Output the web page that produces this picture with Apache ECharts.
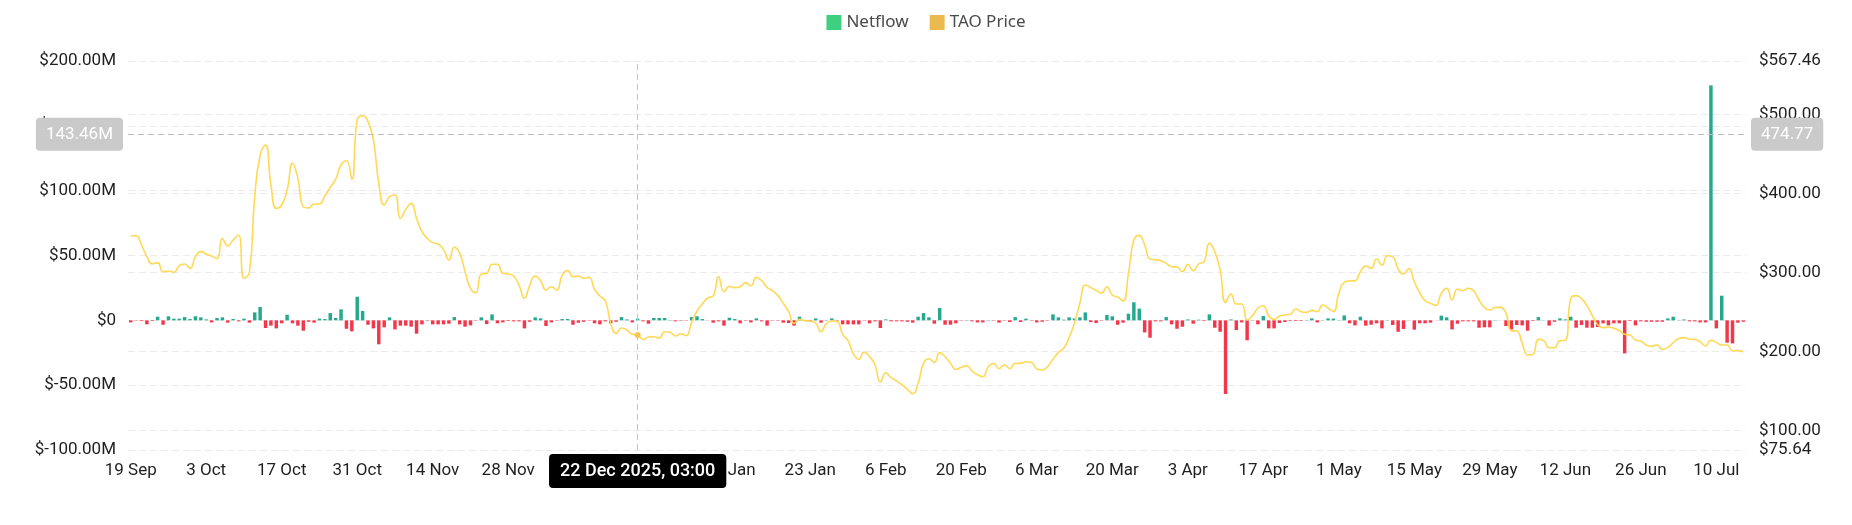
<!DOCTYPE html>
<html>
<head>
<meta charset="utf-8">
<title>TAO Netflow vs Price</title>
<script src="https://cdn.jsdelivr.net/npm/echarts@6/dist/echarts.min.js"></script>
<style>
  html, body { margin: 0; padding: 0; background: #fff; }
  #chart { width: 1852px; height: 525px; }
</style>
</head>
<body>
<div id="chart"></div>
<script>
// daily points, 19 Sep 2025 -> 15 Jul 2026
const startDay = Date.UTC(2025, 8, 19)
const monthNames = ['Jan', 'Feb', 'Mar', 'Apr', 'May', 'Jun', 'Jul', 'Aug', 'Sep', 'Oct', 'Nov', 'Dec']

// netflow in $M
const netflow = [
  -1.6, -0.3, -0.5, -3.1, -0.5, 2.8, -3.4, 3.1, 1.3, 1.3,
  2.5, 1.0, 3.1, 2.3, 0.7, -1.6, 1.8, 2.3, -1.8, 1.0,
  -0.8, 1.3, -1.8, 6.1, 10.3, -5.9, -4.1, -6.2, -2.3, 4.3,
  -2.3, -4.1, -8.0, -1.1, -1.8, 1.3, 1.0, 5.6, 1.8, 8.5,
  -6.5, -8.5, 18.2, 7.2, -3.4, -6.2, -18.5, -5.4, 2.3, -7.0,
  -4.1, -4.1, -4.9, -10.3, -3.1, -0.3, -3.1, -3.1, -3.1, -2.6,
  2.5, -3.1, -4.9, -3.9, -0.3, 2.3, -2.9, 4.6, -2.3, -1.6,
  -0.5, -0.8, -0.8, -6.2, -1.1, 2.3, 1.5, -4.4, -1.6, -0.3,
  1.0, 1.0, -3.4, -1.8, -1.1, -0.3, -2.3, -3.1, -0.8, -2.3,
  -1.1, 2.5, 0.7, -1.6, 1.3, -0.8, -2.6, 1.8, 1.8, 1.8,
  0.2, -0.8, -0.3, -0.3, 2.5, 3.1, 1.0, -0.1, -1.8, -0.8,
  -4.1, 2.0, 1.0, -2.3, -0.3, -1.6, 1.5, -0.8, -4.1, -0.3,
  -0.3, -1.8, -2.1, -4.1, 2.8, -0.3, -0.8, 1.5, -1.8, 0.2,
  1.5, -0.3, -3.1, -3.1, -3.1, -3.1, -0.3, -2.3, -0.8, -5.9,
  0.7, -0.8, -0.8, -0.8, -1.1, -1.8, 2.8, 5.6, 2.3, -2.6,
  9.5, -3.4, -3.4, -2.3, -0.3, 0.2, -0.8, -1.6, -1.6, 0.2,
  -0.3, -1.8, -0.3, -1.3, 2.5, -1.3, 1.3, -0.3, -1.6, -1.1,
  -0.3, 4.6, 2.3, 0.5, 2.3, 1.5, 2.3, 6.1, -1.3, -2.1,
  -0.3, 4.1, 3.1, -3.4, -1.8, 5.1, 13.9, 9.0, -9.3, -13.4,
  -0.8, -0.8, 2.5, -3.1, -6.5, -4.9, 0.7, -2.6, 0.5, -0.5,
  4.6, -5.7, -8.8, -56.8, 0.7, -7.5, -1.6, -15.4, 0.2, -3.1,
  3.3, -6.2, -6.2, -2.1, -1.3, -0.5, -0.5, -0.5, 0.2, 1.5,
  -1.6, 0.2, 1.5, 1.3, 0.2, 3.8, -2.3, -3.9, 2.8, -4.1,
  -3.4, -2.3, -6.2, 0.2, -3.6, -8.8, -6.7, -0.1, -7.2, -2.3,
  -2.3, -1.8, -0.1, 3.6, 2.3, -7.0, -2.6, -0.8, -0.8, -0.8,
  -5.7, -5.4, -5.4, 0.2, -0.1, -4.4, -7.0, -3.6, -3.9, -8.0,
  -0.5, 2.5, 0.2, -4.1, -1.1, 1.5, 0.7, 2.8, -5.7, -3.6,
  -5.7, -5.7, -5.2, -2.3, -3.9, -2.3, -2.3, -25.5, -0.5, -3.9,
  -0.8, -1.1, -1.1, -1.1, -1.1, 1.5, 2.8, 0.2, 0.7, -0.8,
  -0.8, -1.6, -1.6, 181.2, -6.2, 19.0, -17.2, -17.8, -1.8, -1.1
]

// TAO price in $
const taoPrice = [
  346.6, 346.6, 334.8, 320.1, 310.8, 312.5, 301.1, 302.0, 300.3, 308.7,
  310.8, 305.3, 320.1, 326.4, 323.4, 320.9, 317.5, 343.2, 333.6, 341.1,
  347.5, 292.7, 299.8, 395.9, 448.6, 461.3, 410.7, 381.2, 385.4, 404.4,
  438.1, 419.1, 383.3, 381.6, 386.7, 386.7, 396.8, 407.7, 417.9, 436.0,
  441.4, 417.9, 492.9, 498.3, 490.8, 467.6, 412.8, 385.4, 395.9, 398.0,
  368.5, 379.9, 387.5, 368.5, 351.7, 343.2, 337.8, 336.1, 329.3, 315.9,
  331.9, 324.3, 301.1, 280.0, 274.6, 298.2, 299.0, 310.4, 310.4, 299.0,
  298.2, 295.6, 284.2, 267.4, 284.2, 295.6, 289.7, 277.9, 282.1, 277.9,
  296.5, 302.4, 294.8, 295.6, 292.7, 294.0, 278.8, 270.3, 264.4, 235.8,
  223.1, 229.9, 227.4, 221.9, 221.0, 215.5, 218.5, 218.9, 217.2, 225.2,
  224.4, 219.8, 222.7, 220.2, 237.0, 251.4, 260.6, 267.8, 270.3, 294.8,
  275.8, 282.6, 280.9, 282.1, 287.2, 283.0, 293.9, 289.7, 281.3, 277.1,
  270.8, 261.1, 250.5, 235.8, 240.8, 239.2, 238.7, 236.2, 225.2, 235.8,
  238.7, 237.9, 221.9, 213.9, 197.0, 190.3, 199.5, 193.6, 183.5, 161.6,
  173.4, 167.1, 162.9, 158.2, 152.3, 146.9, 159.9, 185.2, 191.1, 186.1,
  198.7, 193.6, 185.2, 177.6, 180.2, 182.3, 175.5, 170.9, 168.3, 181.0,
  185.2, 178.5, 183.1, 178.5, 185.2, 185.2, 187.3, 186.5, 178.0, 176.8,
  181.0, 190.3, 198.7, 204.2, 217.7, 236.6, 261.1, 284.3, 280.9, 277.5,
  274.1, 282.1, 271.6, 269.1, 264.0, 299.0, 341.2, 347.0, 334.8, 317.1,
  316.3, 315.0, 311.6, 307.4, 307.0, 301.1, 310.4, 302.4, 310.8, 313.8,
  336.9, 326.4, 303.2, 262.3, 272.9, 260.2, 260.2, 240.0, 245.5, 255.2,
  258.1, 245.0, 240.8, 245.0, 246.3, 247.2, 253.9, 250.5, 249.7, 252.2,
  250.5, 258.9, 255.2, 250.5, 273.7, 287.6, 289.3, 289.7, 301.1, 308.3,
  305.3, 317.1, 309.1, 321.3, 320.1, 304.5, 298.2, 304.9, 288.0, 274.5,
  264.4, 261.1, 258.5, 273.7, 280.0, 265.3, 279.2, 277.1, 280.0, 277.1,
  265.3, 256.0, 252.6, 256.0, 256.0, 248.4, 226.5, 226.1, 210.5, 195.7,
  196.6, 215.5, 213.9, 205.0, 205.0, 213.9, 214.3, 267.4, 270.8, 267.0,
  258.1, 245.5, 234.1, 230.3, 231.1, 229.5, 226.5, 221.9, 221.0, 214.7,
  213.4, 208.4, 206.7, 208.8, 202.9, 205.0, 211.3, 216.4, 217.7, 216.0,
  215.5, 212.6, 207.1, 214.3, 211.7, 208.4, 208.4, 200.8, 201.6, 199.5
]

const dates = netflow.map((v, i) => {
  const d = new Date(startDay + i * 86400000)
  return d.getUTCDate() + ' ' + monthNames[d.getUTCMonth()] + ' ' + d.getUTCFullYear() + ', 03:00'
})

const netflowMin = -100
const netflowMax = 200
const priceMin = 75.64
const priceMax = 567.46

const UP = '#26a88f'
const DOWN = '#f4364a'
const LINE = '#fbc64e'
const axisFont = 'Roboto, "DejaVu Sans", sans-serif'

const chart = echarts.init(document.getElementById('chart'))

const splitLine = {
  show: true,
  lineStyle: { color: '#ebebeb', type: [7, 4], width: 1 }
}

const option = {
  animation: false,
  legend: {
    top: 9,
    left: 'center',
    icon: 'rect',
    itemWidth: 15,
    itemHeight: 15,
    itemGap: 21,
    textStyle: { fontSize: 17, color: '#4a4a4a', fontFamily: '"Noto Sans", sans-serif' },
    data: [
      { name: 'Netflow', itemStyle: { color: '#3ecf7f' } },
      { name: 'TAO Price', itemStyle: { color: '#ebba4e' } }
    ]
  },
  grid: { left: 128, right: 106, top: 61, bottom: 75 },
  tooltip: {
    trigger: 'axis',
    showContent: false,
    axisPointer: {
      type: 'cross',
      lineStyle: { color: '#c4c4c4', type: [6, 4], width: 1 },
      crossStyle: { color: '#bdbdbd', type: [6, 4], width: 1 }
    }
  },
  xAxis: {
    type: 'category',
    data: dates,
    boundaryGap: true,
    axisLine: { show: false },
    axisTick: { show: false },
    axisLabel: {
      interval: 13,
      margin: 12,
      fontSize: 17,
      color: '#1f1f1f',
      fontFamily: axisFont,
      formatter: v => v.split(' ').slice(0, 2).join(' ')
    },
    splitLine: { show: false },
    axisPointer: {
      label: {
        show: true,
        margin: 4,
        backgroundColor: '#000',
        color: '#fff',
        fontSize: 18,
        fontWeight: 500,
        fontFamily: axisFont,
        padding: [8, 11],
        borderRadius: 4
      }
    }
  },
  yAxis: [
    {
      type: 'value',
      min: netflowMin,
      max: netflowMax,
      interval: 50,
      axisLine: { show: false },
      axisTick: { show: false },
      axisLabel: {
        margin: 12,
        fontSize: 17,
        color: '#1f1f1f',
        fontFamily: axisFont,
        formatter: v => (v === 0 ? '$0' : '$' + v.toFixed(2) + 'M')
      },
      splitLine: splitLine,
      axisPointer: {
        label: {
          show: true,
          margin: 5,
          backgroundColor: '#cacaca',
          color: '#fff',
          fontSize: 17,
          fontFamily: axisFont,
          padding: [8, 10],
          borderRadius: 4,
          formatter: p => p.value.toFixed(2) + 'M'
        }
      }
    },
    {
      type: 'value',
      min: priceMin,
      max: priceMax,
      position: 'right',
      axisLine: { show: false },
      axisTick: { show: false },
      axisLabel: {
        margin: 13,
        fontSize: 17,
        color: '#1f1f1f',
        fontFamily: axisFont,
        formatter: v => '$' + v.toFixed(2)
      },
      splitLine: splitLine,
      axisPointer: {
        label: {
          show: true,
          margin: 5,
          backgroundColor: '#cacaca',
          color: '#fff',
          fontSize: 17,
          fontFamily: axisFont,
          padding: [8, 10],
          borderRadius: 4,
          formatter: p => p.value.toFixed(2)
        }
      }
    }
  ],
  series: [
    {
      name: 'Netflow',
      type: 'bar',
      yAxisIndex: 0,
      barCategoryGap: '36%',
      itemStyle: { color: '#3ecf7f' },
      data: netflow.map(v => ({ value: v, itemStyle: { color: v >= 0 ? UP : DOWN } }))
    },
    {
      name: 'TAO Price',
      type: 'line',
      yAxisIndex: 1,
      smooth: true,
      showSymbol: false,
      symbol: 'circle',
      symbolSize: 5,
      itemStyle: { color: LINE },
      lineStyle: { color: LINE, width: 1.6 },
      data: taoPrice
    }
  ]
}

chart.setOption(option)
// cursor resting on 22 Dec 2025 as in the screenshot
chart.dispatchAction({ type: 'showTip', x: 638, y: 134.312 })
</script>
</body>
</html>
